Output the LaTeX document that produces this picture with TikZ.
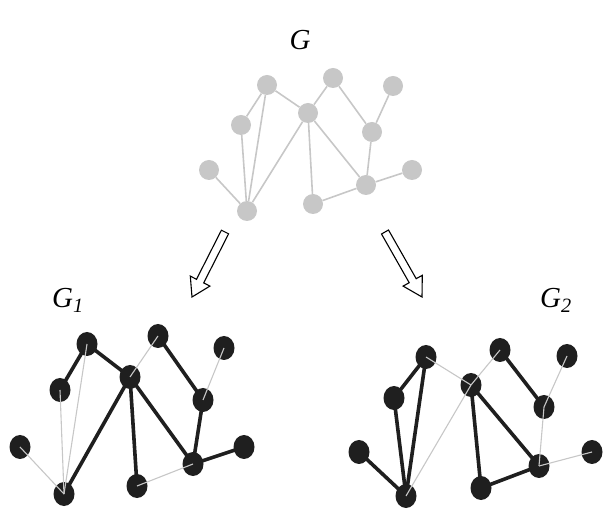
\documentclass[tikz,border=0pt]{standalone}
\usepackage{fontspec}
\setmainfont{Liberation Serif}
\usetikzlibrary{shapes.geometric}
\begin{document}
\begin{tikzpicture}[x=1pt,y=-1pt,
  gn/.style={circle,fill=black!22,inner sep=0,minimum size=20},
  bn/.style={ellipse,fill=black!88,inner sep=0,minimum width=21,minimum height=24},
  ge/.style={draw=black!22,line width=1.6},
  le/.style={draw=black!22,line width=1.1},
  be/.style={draw=black!88,line width=3.6},
  lab/.style={font=\itshape\fontsize{29}{30}\selectfont}]
\useasboundingbox (0,0) rectangle (616,526);
\node[lab] (lG) at (300,40) {G};
\node[lab] (lG1) at (68,300) {G\textsubscript{\itshape 1}};
\node[lab] (lG2) at (556,300) {G\textsubscript{\itshape 2}};
% top graph
\foreach \n/\x/\y in {a/267/85,b/333/78,c/393/86,d/241/125,e/308/113,f/372/132,g/209/170,h/412/170,i/366/185,j/313/204,k/247/211}
  \node[gn] (t\n) at (\x,\y) {};
\foreach \u/\v in {a/d,a/k,a/e,d/k,g/k,k/e,e/b,e/j,e/i,b/f,c/f,f/i,i/h,i/j}
  \path[ge] (t\u) -- (t\v);
% G1
\foreach \n/\x/\y in {a/87/344,b/158/336,c/224/348,d/60/390,e/130/377,f/203/400,g/20/447,h/244/447,i/193/464,j/137/486,k/64/494}
  \node[bn] (p\n) at (\x,\y) {};
\foreach \u/\v in {a/d,a/e,e/k,e/j,e/i,b/f,f/i,i/h}
  \path[be] (p\u.center) -- (p\v.center);
\foreach \u/\v in {a/k,d/k,g/k,e/b,c/f,j/i}
  \path[le] (p\u.center) -- (p\v.center);
% G2
\foreach \n/\x/\y in {a/426/357,b/500/350,c/567/356,d/394/398,e/471/385,f/544/407,g/359/452,h/592/452,i/539/466,j/481/488,k/406/496}
  \node[bn] (q\n) at (\x,\y) {};
\foreach \u/\v in {a/d,a/k,d/k,g/k,e/j,e/i,b/f,j/i}
  \path[be] (q\u.center) -- (q\v.center);
\foreach \u/\v in {a/e,k/e,e/b,c/f,f/i,i/h}
  \path[le] (q\u.center) -- (q\v.center);
% arrows
\draw[line width=1.1,fill=white] (228.6,233.8) -- (203.7,282.9) -- (209.9,286.1) -- (192,297) -- (190.3,276.1) -- (196.5,279.3) -- (221.4,230.2) -- cycle;
\draw[line width=1.1,fill=white] (381.5,234.0) -- (409.2,282.7) -- (403.1,286.1) -- (422,297) -- (422.3,275.3) -- (416.2,278.7) -- (388.5,230.0) -- cycle;
\end{tikzpicture}
\end{document}
